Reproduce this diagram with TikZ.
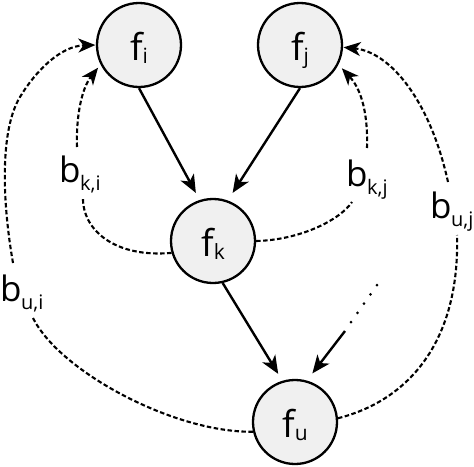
\documentclass[tikz,border=0pt]{standalone}
\usepackage{fontspec}
\setmainfont{Open Sans}
\usetikzlibrary{arrows.meta}
\newcommand{\fsub}[1]{{\fontsize{37}{37}\selectfont f}\raisebox{-3pt}{\fontsize{21}{21}\selectfont #1}}
\newcommand{\bsub}[1]{{\fontsize{35}{35}\selectfont b}\kern-0.5pt\raisebox{-8pt}{\fontsize{20}{20}\selectfont #1}}
\begin{document}
\begin{tikzpicture}[x=1pt,y=-1pt,
  fnode/.style={circle,draw=black,line width=2.3pt,fill=black!6,minimum size=84pt,inner sep=0pt,text height=31pt,text depth=0pt},
  blabel/.style={inner sep=0pt,anchor=base west},
  solidarrow/.style={line width=2.4pt,-{Stealth[length=18pt,width=15pt,inset=5pt]}},
  dasharrow/.style={line width=2.1pt,dash pattern=on 4.5pt off 2.5pt,-{Stealth[length=17pt,width=14pt,inset=5pt]}},
  dashline/.style={line width=2.1pt,dash pattern=on 4.5pt off 2.5pt},
  dotline/.style={line width=3pt,line cap=round,dash pattern=on 0pt off 11.3pt}]
\useasboundingbox (0,0) rectangle (474,466);
% nodes
\node[fnode] (fi) at (139,45) {\fsub{i}};
\node[fnode] (fj) at (300,45) {\fsub{j}};
\node[fnode] (fk) at (213,241) {\fsub{k}};
\node[fnode] (fu) at (295,422) {\fsub{u}};
% labels
\node[blabel] (bki) at (59,182) {\bsub{k,i}};
\node[blabel] (bui) at (0,301) {\bsub{u,i}};
\node[blabel] (bkj) at (346,186) {\bsub{k,j}};
\node[blabel] (buj) at (430,218) {\bsub{u,j}};
% coordinates for broken curves
\coordinate (ki1) at (83,197);
\coordinate (ki2) at (77,147);
\coordinate (ui1) at (33,318);
\coordinate (ui2) at (13,263);
\coordinate (mid) at (20,97);
\coordinate (kj1) at (352,202);
\coordinate (kj2) at (367,148);
\coordinate (uj1) at (457,235);
\coordinate (uj2) at (448,182);
\coordinate (dd1) at (351,322);
\coordinate (dd2) at (377,285);
\coordinate (da) at (345,331);
% solid arrows
\draw[solidarrow,shorten >=8pt] (fi.south) -- (fk.108);
\draw[solidarrow,shorten >=9pt] (fj.south) -- (fk.70);
\draw[solidarrow,shorten >=8pt] (fk.-77) -- (fu.107);
\draw[solidarrow,shorten >=9pt] (da) -- (fu.74);
\draw[dotline] (dd1) -- (dd2);
% dashed curves left
\draw[dashline] (fk.196) .. controls (115,258) and (82,230) .. (ki1);
\draw[dasharrow,shorten >=4pt] (ki2) .. controls (76,115) and (82,88) .. (fi.207);
\draw[dashline] (fu.193) .. controls (175,433) and (60,372) .. (ui1);
\draw[dasharrow,shorten >=0.5pt] (ui2) .. controls (2,200) and (0,130) .. (mid) .. controls (35,72) and (60,46) .. (fi.west);
% dashed curves right
\draw[dashline] (fk.east) .. controls (300,240) and (340,220) .. (kj1);
\draw[dasharrow,shorten >=5pt] (kj2) .. controls (368,115) and (362,90) .. (fj.333);
\draw[dashline] (fu.5) .. controls (410,400) and (460,340) .. (uj1);
\draw[dasharrow,shorten >=0.5pt] (uj2) .. controls (430,100) and (390,52) .. (fj.-3);
\end{tikzpicture}
\end{document}
